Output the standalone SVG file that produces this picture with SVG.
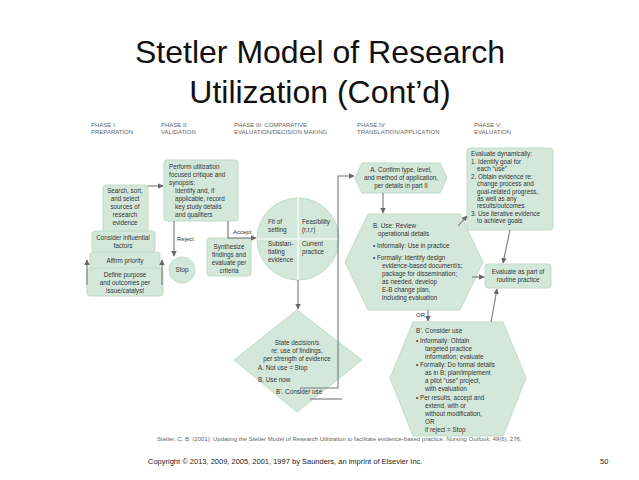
<svg xmlns="http://www.w3.org/2000/svg" width="639" height="480" viewBox="0 0 639 480">
<defs>
<marker id="ah" viewBox="0 0 10 10" refX="9" refY="5" markerWidth="5" markerHeight="5" orient="auto"><path d="M0,0L10,5L0,10z" fill="#666"/></marker>
<style>
.n{fill:#d3e8da;stroke:#c0dbc9;stroke-width:1}
.t{font-family:"Liberation Sans",Arial,sans-serif;font-size:6.3px;fill:#333}
.h{font-family:"Liberation Sans",Arial,sans-serif;font-size:6px;fill:#666}
.c{stroke:#777;stroke-width:1.1;fill:none}
.ti{font-family:"Liberation Sans",Arial,sans-serif;font-size:32px;fill:#111}
</style>
</defs>
<rect width="639" height="480" fill="#fff"/>
<text class="ti" x="320" y="63" text-anchor="middle">Stetler Model of Research</text>
<text class="ti" x="320" y="103" text-anchor="middle">Utilization (Cont’d)</text>
<g class="h">
<text x="91" y="127">PHASE I:</text><text x="91" y="134">PREPARATION</text>
<text x="161" y="127">PHASE II:</text><text x="161" y="134">VALIDATION</text>
<text x="234" y="127">PHASE III: COMPARATIVE</text><text x="234" y="134">EVALUATION/DECISION MAKING</text>
<text x="357" y="127">PHASE IV:</text><text x="357" y="134">TRANSLATION/APPLICATION</text>
<text x="474" y="127">PHASE V:</text><text x="474" y="134">EVALUATION</text>
</g>
<g id="search"><rect class="n" x="103" y="185" width="45" height="48" rx="3"/>
<text class="t" text-anchor="middle"><tspan x="125" y="193">Search, sort,</tspan><tspan x="125" y="201">and select</tspan><tspan x="125" y="209">sources of</tspan><tspan x="125" y="217">research</tspan><tspan x="125" y="225">evidence</tspan></text></g>
<g id="factors"><rect class="n" x="92" y="231" width="63" height="21" rx="3"/>
<text class="t" text-anchor="middle"><tspan x="123" y="240">Consider influential</tspan><tspan x="123" y="248">factors</tspan></text></g>
<g id="affirm"><rect class="n" x="90" y="252" width="70" height="17" rx="3"/>
<text class="t" x="125" y="263" text-anchor="middle">Affirm priority</text></g>
<g id="define"><rect class="n" x="87" y="268" width="76" height="28" rx="3"/>
<text class="t" text-anchor="middle"><tspan x="125" y="277">Define purpose</tspan><tspan x="125" y="285">and outcomes per</tspan><tspan x="125" y="293">issue/catalyst</tspan></text></g>
<g id="perform"><rect class="n" x="164" y="160" width="74" height="61" rx="3"/>
<text class="t"><tspan x="169" y="169">Perform utilization</tspan><tspan x="169" y="177">focused critique and</tspan><tspan x="169" y="185">synopsis:</tspan><tspan x="175" y="193">Identify and, if</tspan><tspan x="175" y="201">applicable, record</tspan><tspan x="175" y="209">key study details</tspan><tspan x="175" y="217">and qualifiers</tspan></text></g>
<g id="stop"><circle class="n" cx="182" cy="270" r="13"/><text class="t" x="182" y="272" text-anchor="middle">Stop</text></g>
<g id="synth"><rect class="n" x="207" y="238" width="44" height="38" rx="3"/>
<text class="t" text-anchor="middle"><tspan x="229" y="249">Synthesize</tspan><tspan x="229" y="257">findings and</tspan><tspan x="229" y="265">evaluate per</tspan><tspan x="229" y="273">criteria</tspan></text></g>
<g id="criteria"><circle class="n" cx="298" cy="239" r="41"/>
<line x1="298" y1="198" x2="298" y2="280" stroke="#fff" stroke-width="1.2"/><line x1="257" y1="239" x2="339" y2="239" stroke="#fff" stroke-width="1.2"/>
<text class="t"><tspan x="268" y="224">Fit of</tspan><tspan x="268" y="232">setting</tspan><tspan x="302" y="224">Feasibility</tspan><tspan x="302" y="232">(r,r,r)</tspan><tspan x="268" y="246">Substan-</tspan><tspan x="268" y="254">tiating</tspan><tspan x="268" y="262">evidence</tspan><tspan x="302" y="246">Current</tspan><tspan x="302" y="254">practice</tspan></text></g>
<g id="decision"><polygon class="n" points="297,310 362,360 297,412 234,360"/>
<text class="t" text-anchor="middle"><tspan x="297" y="345">State decision/s</tspan><tspan x="297" y="353">re: use of findings,</tspan><tspan x="297" y="361">per strength of evidence</tspan></text>
<text class="t"><tspan x="258" y="370">A. Not use = Stop</tspan><tspan x="258" y="382">B. Use now</tspan><tspan x="276" y="394">B’. Consider use</tspan></text></g>
<g id="confirm"><polygon class="n" points="362,163 440,163 447,178 440,193 362,193 355,178"/>
<text class="t" text-anchor="middle"><tspan x="401" y="172">A. Confirm type, level,</tspan><tspan x="401" y="180">and method of application,</tspan><tspan x="401" y="188">per details in part II</tspan></text></g>
<g id="useb"><polygon class="n" points="368,214 460,214 483,262 460,310 368,310 345,262"/>
<text class="t"><tspan x="373" y="228">B. Use: Review</tspan><tspan x="378" y="236">operational details</tspan><tspan x="373" y="248">•  Informally: Use in practice</tspan><tspan x="373" y="260">•  Formally: Identify design</tspan><tspan x="382" y="268">evidence-based document/s;</tspan><tspan x="382" y="276">package for dissemination;</tspan><tspan x="382" y="284">as needed, develop</tspan><tspan x="382" y="292">E-B change plan,</tspan><tspan x="382" y="300">including evaluation</tspan></text></g>
<g id="consider"><polygon class="n" points="413,322 503,322 526,378 503,436 413,436 390,378"/>
<text class="t"><tspan x="416" y="333">B’. Consider use</tspan><tspan x="416" y="343">•  Informally: Obtain</tspan><tspan x="425" y="351">targeted practice</tspan><tspan x="425" y="359">information; evaluate</tspan><tspan x="416" y="367">•  Formally: Do formal details</tspan><tspan x="425" y="375">as in B; plan/implement</tspan><tspan x="425" y="383">a pilot “use” project,</tspan><tspan x="425" y="391">with evaluation</tspan><tspan x="416" y="400">•  Per results, accept and</tspan><tspan x="425" y="408">extend, with or</tspan><tspan x="425" y="416">without modification,</tspan><tspan x="425" y="424">OR</tspan></text>
<text class="t" x="425" y="432">if reject = Stop</text></g>
<g id="dynamic"><rect class="n" x="467" y="148" width="86" height="82" rx="3"/>
<text class="t"><tspan x="471" y="156">Evaluate dynamically:</tspan><tspan x="471" y="164">1. Identify goal for</tspan><tspan x="477" y="171">each “use”</tspan><tspan x="471" y="179">2. Obtain evidence re:</tspan><tspan x="477" y="186">change process and</tspan><tspan x="477" y="194">goal-related progress,</tspan><tspan x="477" y="201">as well as any</tspan><tspan x="477" y="208">results/outcomes</tspan><tspan x="471" y="216">3. Use iterative evidence</tspan><tspan x="477" y="223">to achieve goals</tspan></text></g>
<g id="routine"><rect class="n" x="485" y="264" width="66" height="24" rx="3"/>
<text class="t" text-anchor="middle"><tspan x="518" y="274">Evaluate as part of</tspan><tspan x="518" y="282">routine practice</tspan></text></g>
<g id="connectors" class="c">
<path d="M148,186H163" marker-end="url(#ah)"/>
<path d="M87,285V260" marker-end="url(#ah)"/>
<path d="M162,285V260" marker-end="url(#ah)"/>
<path d="M174,221V256" marker-end="url(#ah)"/>
<path d="M228,221V238H256" marker-end="url(#ah)"/>
<path d="M298,280V309" marker-end="url(#ah)"/>
<path d="M300,388H338V176H354" marker-end="url(#ah)"/>
<path d="M310,399H342" />
<path d="M383,193V213" marker-end="url(#ah)"/>
<path d="M458,226L467,216" marker-end="url(#ah)"/>
<path d="M472,277H484" marker-end="url(#ah)"/>
<path d="M510,230L503,263" marker-end="url(#ah)"/>
<path d="M428,310V321" marker-end="url(#ah)"/>
<path d="M491,322L497,289" marker-end="url(#ah)"/>
</g>
<g class="t"><text x="177" y="241" font-size="6px">Reject</text><text x="233" y="234" font-size="6px">Accept</text><text x="416" y="317" font-size="6px">OR</text></g>
<text class="h" x="157" y="441" font-size="4.6px">Stetler, C. B. (2001). Updating the Stetler Model of Research Utilization to facilitate evidence-based practice. <tspan font-style="italic">Nursing Outlook, 49</tspan>(6), 276.</text>
<text x="148" y="464" font-family="Liberation Sans,Arial,sans-serif" font-size="7.5px" fill="#222">Copyright © 2013, 2009, 2005, 2001, 1997 by Saunders, an imprint of Elsevier Inc.</text>
<text x="600" y="464" font-family="Liberation Sans,Arial,sans-serif" font-size="7.5px" fill="#222">50</text>
</svg>
